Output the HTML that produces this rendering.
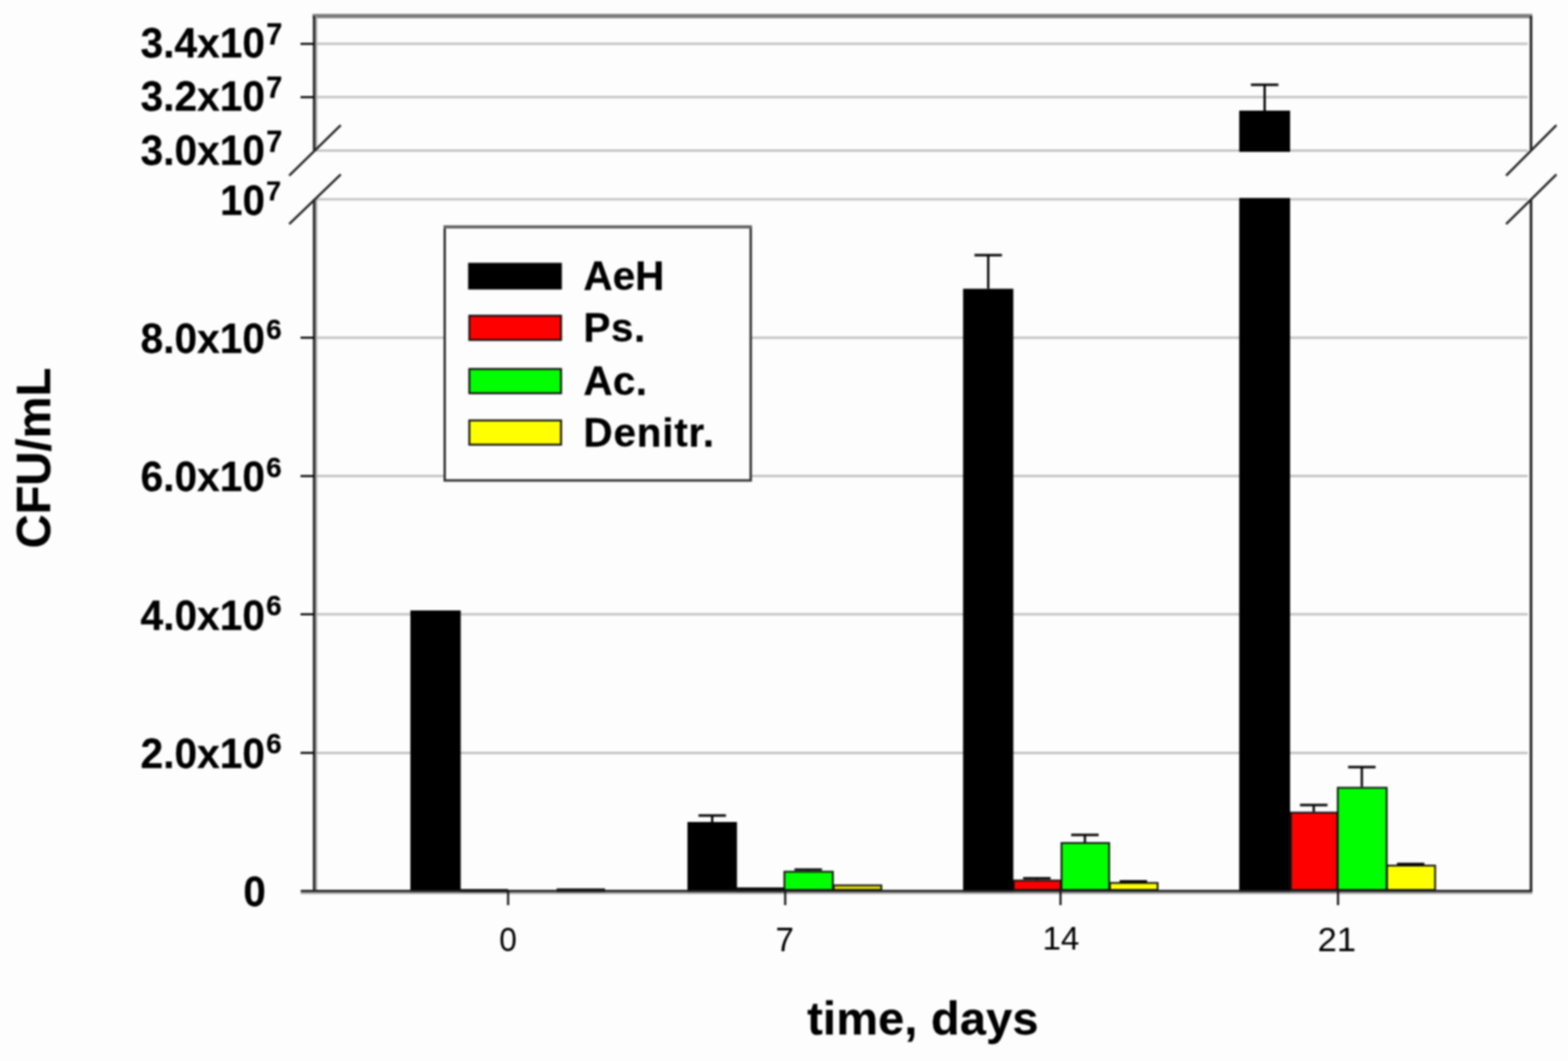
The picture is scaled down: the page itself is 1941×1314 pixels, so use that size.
<!DOCTYPE html>
<html lang="en"><head><meta charset="utf-8"><title>CFU/mL vs time</title>
<style>
html,body{margin:0;padding:0;background:#fdfdfd;}
body{width:1941px;height:1314px;overflow:hidden;}
svg{display:block;filter:blur(0.8px);}
text{font-family:"Liberation Sans",Arial,Helvetica,sans-serif;fill:#000;}
.b{font-weight:bold;stroke:#000;stroke-width:0.3px;stroke-linejoin:round;}
.r{font-weight:normal;}
</style></head><body>
<svg width="1941" height="1314" viewBox="0 0 1941 1314">
<rect x="-5" y="-5" width="1951" height="1324" fill="#fdfdfd"/>
<g stroke="#c4c4c4" stroke-width="3">
<line x1="388.8" y1="54.3" x2="1891.2" y2="54.3"/>
<line x1="388.8" y1="120.3" x2="1891.2" y2="120.3"/>
<line x1="388.8" y1="186.6" x2="1891.2" y2="186.6"/>
<line x1="388.8" y1="246.7" x2="1891.2" y2="246.7"/>
<line x1="388.8" y1="418.2" x2="1891.2" y2="418.2"/>
<line x1="388.8" y1="589.6" x2="1891.2" y2="589.6"/>
<line x1="388.8" y1="760.8" x2="1891.2" y2="760.8"/>
<line x1="388.8" y1="932.4" x2="1891.2" y2="932.4"/>
</g>
<g stroke="#000" stroke-width="2.8" fill="none">
<path d="M881.65 1018V1010M864.65 1010H898.65"/>
<path d="M1000.5 1078.6V1076.8M983.5 1076.8H1017.5"/>
<path d="M1223.3000000000002 357.6V316M1206.3000000000002 316H1240.3000000000002"/>
<path d="M1283.5 1089.5V1087.7M1266.5 1087.7H1300.5"/>
<path d="M1343.0 1043V1034M1326.0 1034H1360.0"/>
<path d="M1403.0 1092.5V1091.5M1386.0 1091.5H1420.0"/>
<path d="M1565.5 137V105M1548.5 105H1582.5"/>
<path d="M1626.25 1005.4V997M1609.25 997H1643.25"/>
<path d="M1685.8 974.6V950M1668.8 950H1702.8"/>
<path d="M1746.25 1071V1070M1729.25 1070H1763.25"/>
</g>
<rect x="508" y="756" width="62.3" height="348.4" fill="#000"/>
<rect x="851" y="1018" width="61.3" height="86.4" fill="#000"/>
<rect x="971" y="1079.6" width="60.0" height="22.5" fill="#00ff00" stroke="#111" stroke-width="2.2"/>
<rect x="1032" y="1096.5" width="59.0" height="5.6" fill="#e8e000" stroke="#111" stroke-width="2.2"/>
<rect x="1192.2" y="357.6" width="62.2" height="746.8" fill="#000"/>
<rect x="1255" y="1090.5" width="58.0" height="11.6" fill="#ff0000" stroke="#111" stroke-width="2.2"/>
<rect x="1314" y="1044" width="59.0" height="58.1" fill="#00ff00" stroke="#111" stroke-width="2.2"/>
<rect x="1374" y="1093.5" width="59.0" height="8.6" fill="#ffff00" stroke="#111" stroke-width="2.2"/>
<rect x="1534" y="137" width="63.0" height="967.4" fill="#000"/>
<rect x="1598" y="1006.4" width="57.5" height="95.7" fill="#ff0000" stroke="#111" stroke-width="2.2"/>
<rect x="1656" y="975.6" width="60.6" height="126.5" fill="#00ff00" stroke="#111" stroke-width="2.2"/>
<rect x="1717" y="1072" width="59.5" height="30.1" fill="#ffff00" stroke="#111" stroke-width="2.2"/>
<g fill="#0a0a0a">
<rect x="570" y="1101" width="59" height="4"/>
<rect x="689" y="1100.3" width="60" height="4.5"/>
<rect x="912" y="1099" width="59" height="5.7"/>
</g>
<rect x="382.8" y="188.1" width="1518.4" height="57.1" fill="#fdfdfd"/>
<line x1="386.8" y1="19.9" x2="1896.8" y2="19.9" stroke="#7c7c7c" stroke-width="5.4"/>
<path d="M391.40000000000003 19.9V186.6M391.40000000000003 246.7V1103.4" stroke="#a0a0a0" stroke-width="2.4" fill="none"/>
<path d="M388.8 19.9V186.6M388.8 246.7V1103.4" stroke="#1e1e1e" stroke-width="2.9" fill="none"/>
<path d="M1895.2 19.9V186.6M1895.2 246.7V1103.4" stroke="#202020" stroke-width="3.2" fill="none"/>
<line x1="372.3" y1="1106.1000000000001" x2="1896.8" y2="1106.1000000000001" stroke="#a0a0a0" stroke-width="2.4"/>
<line x1="372.3" y1="1103.4" x2="1896.8" y2="1103.4" stroke="#1e1e1e" stroke-width="2.9"/>
<g stroke="#000" stroke-width="2.5">
<line x1="372.0" y1="54.3" x2="388.8" y2="54.3"/>
<line x1="372.0" y1="120.3" x2="388.8" y2="120.3"/>
<line x1="372.0" y1="418.2" x2="388.8" y2="418.2"/>
<line x1="372.0" y1="589.6" x2="388.8" y2="589.6"/>
<line x1="372.0" y1="760.8" x2="388.8" y2="760.8"/>
<line x1="372.0" y1="932.4" x2="388.8" y2="932.4"/>
</g>
<g stroke="#111" stroke-width="2.6">
<line x1="629" y1="1103.4" x2="629" y2="1121"/>
<line x1="972" y1="1103.4" x2="972" y2="1121"/>
<line x1="1312.8" y1="1103.4" x2="1312.8" y2="1121"/>
<line x1="1656.3" y1="1103.4" x2="1656.3" y2="1121"/>
</g>
<g stroke="#222" stroke-width="2.8">
<line x1="358" y1="217.4" x2="421.8" y2="155.1"/>
<line x1="358" y1="277.6" x2="421.8" y2="215.9"/>
<line x1="1864.4" y1="217.4" x2="1926.7" y2="155.1"/>
<line x1="1864.4" y1="277.6" x2="1926.7" y2="215.9"/>
</g>
<rect x="550.5" y="281.5" width="378.8" height="313.5" fill="#fdfdfd" stroke="#333" stroke-width="3"/>
<line x1="549" y1="281" x2="930.8" y2="281" stroke="#666" stroke-width="4"/>
<rect x="579.5" y="325.5" width="116" height="33" fill="#000"/>
<text x="722.3" y="359" class="b" font-size="50" letter-spacing="0">AeH</text>
<rect x="581" y="391" width="113.5" height="30" fill="#ff0000" stroke="#111" stroke-width="2.4"/>
<text x="722.3" y="423" class="b" font-size="50" letter-spacing="0.6">Ps.</text>
<rect x="581" y="457" width="113.5" height="30" fill="#00ff00" stroke="#111" stroke-width="2.4"/>
<text x="722.3" y="489" class="b" font-size="50" letter-spacing="0.4">Ac.</text>
<rect x="581" y="520.7" width="113.5" height="30" fill="#ffff00" stroke="#111" stroke-width="2.4"/>
<text x="722.3" y="552.7" class="b" font-size="50" letter-spacing="1.0">Denitr.</text>
<text x="328" y="70.5" class="b" font-size="52.5" text-anchor="end" textLength="154" lengthAdjust="spacingAndGlyphs">3.4x10</text>
<text x="329.5" y="55.0" class="b" font-size="36">7</text>
<text x="328" y="137.3" class="b" font-size="52.5" text-anchor="end" textLength="154" lengthAdjust="spacingAndGlyphs">3.2x10</text>
<text x="329.5" y="121.3" class="b" font-size="36">7</text>
<text x="328" y="204.2" class="b" font-size="52.5" text-anchor="end" textLength="154" lengthAdjust="spacingAndGlyphs">3.0x10</text>
<text x="329.5" y="187.5" class="b" font-size="36">7</text>
<text x="328" y="266.0" class="b" font-size="52.5" text-anchor="end" textLength="55.5" lengthAdjust="spacingAndGlyphs">10</text>
<text x="329.5" y="247.5" class="b" font-size="33">7</text>
<text x="328" y="437.0" class="b" font-size="52.5" text-anchor="end" textLength="154" lengthAdjust="spacingAndGlyphs">8.0x10</text>
<text x="329.5" y="419.7" class="b" font-size="34.5">6</text>
<text x="328" y="608.4" class="b" font-size="52.5" text-anchor="end" textLength="154" lengthAdjust="spacingAndGlyphs">6.0x10</text>
<text x="329.5" y="590.9" class="b" font-size="34.5">6</text>
<text x="328" y="779.8" class="b" font-size="52.5" text-anchor="end" textLength="154" lengthAdjust="spacingAndGlyphs">4.0x10</text>
<text x="329.5" y="761.6" class="b" font-size="34.5">6</text>
<text x="328" y="951.2" class="b" font-size="52.5" text-anchor="end" textLength="154" lengthAdjust="spacingAndGlyphs">2.0x10</text>
<text x="329.5" y="933.4" class="b" font-size="34.5">6</text>
<text x="329" y="1122.3" class="b" font-size="52.5" text-anchor="end" textLength="27.8" lengthAdjust="spacingAndGlyphs">0</text>
<text x="629" y="1178.0" class="r" font-size="43" text-anchor="middle" textLength="21.8" lengthAdjust="spacingAndGlyphs">0</text>
<text x="971.5" y="1177.6" class="r" font-size="43" text-anchor="middle" textLength="22.8" lengthAdjust="spacingAndGlyphs">7</text>
<text x="1313.3" y="1176.3" class="r" font-size="41" text-anchor="middle" textLength="45.6" lengthAdjust="spacingAndGlyphs">14</text>
<text x="1654.8" y="1178.3" class="r" font-size="43" text-anchor="middle" textLength="47.8" lengthAdjust="spacingAndGlyphs">21</text>
<text x="1142.5" y="1281" class="b" font-size="58" text-anchor="middle" letter-spacing="0.3">time, days</text>
<text transform="translate(61.5,567.3) rotate(-90)" class="b" font-size="58.8" text-anchor="middle" textLength="224" lengthAdjust="spacingAndGlyphs">CFU/mL</text>
</svg>
</body></html>
